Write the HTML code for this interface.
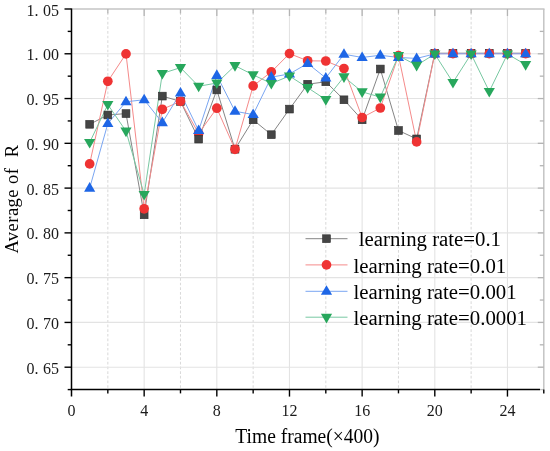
<!DOCTYPE html>
<html><head><meta charset="utf-8"><title>Average of R</title>
<style>
html,body{margin:0;padding:0;background:#fff;}
body{width:550px;height:451px;overflow:hidden;}
svg{display:block;}
.tk{font-family:"Liberation Serif",serif;font-size:16px;fill:#1a1a1a;}
.ti{font-family:"Liberation Serif",serif;font-size:20px;fill:#000;}
.lg{font-family:"Liberation Serif",serif;font-size:20.8px;fill:#000;}
</style></head>
<body><svg width="550" height="451" viewBox="0 0 550 451">
<rect width="550" height="451" fill="#fff"/>
<line x1="107.83" y1="9" x2="107.83" y2="389.59" stroke="#dadada" stroke-width="1.05" stroke-dasharray="2.7 1.96" stroke-dashoffset="1.3"/>
<line x1="144.16" y1="9" x2="144.16" y2="389.59" stroke="#e3e3e3" stroke-width="1.1"/>
<line x1="180.49" y1="9" x2="180.49" y2="389.59" stroke="#dadada" stroke-width="1.05" stroke-dasharray="2.7 1.96" stroke-dashoffset="1.3"/>
<line x1="216.82" y1="9" x2="216.82" y2="389.59" stroke="#e3e3e3" stroke-width="1.1"/>
<line x1="253.15" y1="9" x2="253.15" y2="389.59" stroke="#dadada" stroke-width="1.05" stroke-dasharray="2.7 1.96" stroke-dashoffset="1.3"/>
<line x1="289.48" y1="9" x2="289.48" y2="389.59" stroke="#e3e3e3" stroke-width="1.1"/>
<line x1="325.81" y1="9" x2="325.81" y2="389.59" stroke="#dadada" stroke-width="1.05" stroke-dasharray="2.7 1.96" stroke-dashoffset="1.3"/>
<line x1="362.14" y1="9" x2="362.14" y2="389.59" stroke="#e3e3e3" stroke-width="1.1"/>
<line x1="398.47" y1="9" x2="398.47" y2="389.59" stroke="#dadada" stroke-width="1.05" stroke-dasharray="2.7 1.96" stroke-dashoffset="1.3"/>
<line x1="434.8" y1="9" x2="434.8" y2="389.59" stroke="#e3e3e3" stroke-width="1.1"/>
<line x1="471.13" y1="9" x2="471.13" y2="389.59" stroke="#dadada" stroke-width="1.05" stroke-dasharray="2.7 1.96" stroke-dashoffset="1.3"/>
<line x1="507.46" y1="9" x2="507.46" y2="389.59" stroke="#e3e3e3" stroke-width="1.1"/>
<line x1="71.5" y1="367.2" x2="543.79" y2="367.2" stroke="#e3e3e3" stroke-width="1.1"/>
<line x1="71.5" y1="322.42" x2="543.79" y2="322.42" stroke="#e3e3e3" stroke-width="1.1"/>
<line x1="71.5" y1="277.65" x2="543.79" y2="277.65" stroke="#e3e3e3" stroke-width="1.1"/>
<line x1="71.5" y1="232.88" x2="543.79" y2="232.88" stroke="#e3e3e3" stroke-width="1.1"/>
<line x1="71.5" y1="188.1" x2="543.79" y2="188.1" stroke="#e3e3e3" stroke-width="1.1"/>
<line x1="71.5" y1="143.33" x2="543.79" y2="143.33" stroke="#e3e3e3" stroke-width="1.1"/>
<line x1="71.5" y1="98.55" x2="543.79" y2="98.55" stroke="#e3e3e3" stroke-width="1.1"/>
<line x1="71.5" y1="53.78" x2="543.79" y2="53.78" stroke="#e3e3e3" stroke-width="1.1"/>
<line x1="71.5" y1="9" x2="544.49" y2="9" stroke="#c4c4c4" stroke-width="1.5"/>
<line x1="543.79" y1="9" x2="543.79" y2="389.59" stroke="#c4c4c4" stroke-width="1.5"/>
<line x1="107.83" y1="9" x2="107.83" y2="13.5" stroke="#b4b4b4" stroke-width="1.3"/>
<line x1="144.16" y1="9" x2="144.16" y2="16" stroke="#b4b4b4" stroke-width="1.3"/>
<line x1="180.49" y1="9" x2="180.49" y2="13.5" stroke="#b4b4b4" stroke-width="1.3"/>
<line x1="216.82" y1="9" x2="216.82" y2="16" stroke="#b4b4b4" stroke-width="1.3"/>
<line x1="253.15" y1="9" x2="253.15" y2="13.5" stroke="#b4b4b4" stroke-width="1.3"/>
<line x1="289.48" y1="9" x2="289.48" y2="16" stroke="#b4b4b4" stroke-width="1.3"/>
<line x1="325.81" y1="9" x2="325.81" y2="13.5" stroke="#b4b4b4" stroke-width="1.3"/>
<line x1="362.14" y1="9" x2="362.14" y2="16" stroke="#b4b4b4" stroke-width="1.3"/>
<line x1="398.47" y1="9" x2="398.47" y2="13.5" stroke="#b4b4b4" stroke-width="1.3"/>
<line x1="434.8" y1="9" x2="434.8" y2="16" stroke="#b4b4b4" stroke-width="1.3"/>
<line x1="471.13" y1="9" x2="471.13" y2="13.5" stroke="#b4b4b4" stroke-width="1.3"/>
<line x1="507.46" y1="9" x2="507.46" y2="16" stroke="#b4b4b4" stroke-width="1.3"/>
<line x1="537.79" y1="367.2" x2="543.79" y2="367.2" stroke="#b4b4b4" stroke-width="1.3"/>
<line x1="539.79" y1="344.81" x2="543.79" y2="344.81" stroke="#b4b4b4" stroke-width="1.3"/>
<line x1="537.79" y1="322.43" x2="543.79" y2="322.43" stroke="#b4b4b4" stroke-width="1.3"/>
<line x1="539.79" y1="300.04" x2="543.79" y2="300.04" stroke="#b4b4b4" stroke-width="1.3"/>
<line x1="537.79" y1="277.65" x2="543.79" y2="277.65" stroke="#b4b4b4" stroke-width="1.3"/>
<line x1="539.79" y1="255.26" x2="543.79" y2="255.26" stroke="#b4b4b4" stroke-width="1.3"/>
<line x1="537.79" y1="232.88" x2="543.79" y2="232.88" stroke="#b4b4b4" stroke-width="1.3"/>
<line x1="539.79" y1="210.49" x2="543.79" y2="210.49" stroke="#b4b4b4" stroke-width="1.3"/>
<line x1="537.79" y1="188.1" x2="543.79" y2="188.1" stroke="#b4b4b4" stroke-width="1.3"/>
<line x1="539.79" y1="165.71" x2="543.79" y2="165.71" stroke="#b4b4b4" stroke-width="1.3"/>
<line x1="537.79" y1="143.33" x2="543.79" y2="143.33" stroke="#b4b4b4" stroke-width="1.3"/>
<line x1="539.79" y1="120.94" x2="543.79" y2="120.94" stroke="#b4b4b4" stroke-width="1.3"/>
<line x1="537.79" y1="98.55" x2="543.79" y2="98.55" stroke="#b4b4b4" stroke-width="1.3"/>
<line x1="539.79" y1="76.16" x2="543.79" y2="76.16" stroke="#b4b4b4" stroke-width="1.3"/>
<line x1="537.79" y1="53.78" x2="543.79" y2="53.78" stroke="#b4b4b4" stroke-width="1.3"/>
<line x1="539.79" y1="31.39" x2="543.79" y2="31.39" stroke="#b4b4b4" stroke-width="1.3"/>
<polyline points="89.66,124.3 107.83,115 126,113.6 144.16,214.8 162.32,96.1 180.49,101.4 198.66,139.1 216.82,89.9 234.98,149.2 253.15,119.8 271.31,134.7 289.48,109.1 307.64,84.2 325.81,81.8 343.97,99.8 362.14,119.8 380.31,69 398.47,130.5 416.63,138.9 434.8,53.2 452.96,53.2 471.13,53.2 489.29,53.2 507.46,53.2 525.62,53.2" fill="none" stroke="#858585" stroke-width="1.0" stroke-linejoin="round"/>
<polyline points="89.66,163.9 107.83,81.3 126,53.9 144.16,208.8 162.32,109.3 180.49,101.3 198.66,133.5 216.82,108.2 234.98,149.3 253.15,85.9 271.31,71.9 289.48,53.6 307.64,60.8 325.81,61 343.97,68.5 362.14,117.5 380.31,108 398.47,55.6 416.63,141.9 434.8,53.6 452.96,53.6 471.13,53.6 489.29,53.6 507.46,53.6 525.62,53.6" fill="none" stroke="#f58a8a" stroke-width="1.0" stroke-linejoin="round"/>
<polyline points="89.66,188.15 107.83,123.55 126,101.75 144.16,99.75 162.32,122.65 180.49,93.05 198.66,130.55 216.82,75.35 234.98,111.25 253.15,114.55 271.31,77.15 289.48,73.95 307.64,63.45 325.81,77.95 343.97,54.25 362.14,57.45 380.31,55.25 398.47,57.45 416.63,58.45 434.8,53.85 452.96,53.75 471.13,53.75 489.29,53.75 507.46,53.75 525.62,53.75" fill="none" stroke="#7aa6f2" stroke-width="1.0" stroke-linejoin="round"/>
<polyline points="89.66,142.45 107.83,104.55 126,131.15 144.16,194.45 162.32,73.45 180.49,67.65 198.66,86.25 216.82,83.05 234.98,65.65 253.15,74.85 271.31,83.45 289.48,76.05 307.64,87.65 325.81,99.65 343.97,76.85 362.14,91.85 380.31,97.15 398.47,55.65 416.63,65.35 434.8,54.05 452.96,82.45 471.13,54.05 489.29,91.45 507.46,54.05 525.62,64.65" fill="none" stroke="#78c8a2" stroke-width="1.0" stroke-linejoin="round"/>
<rect x="85.76" y="120.4" width="7.8" height="7.8" fill="#454545" stroke="#2e2e2e" stroke-width="0.6"/>
<rect x="103.93" y="111.1" width="7.8" height="7.8" fill="#454545" stroke="#2e2e2e" stroke-width="0.6"/>
<rect x="122.09" y="109.7" width="7.8" height="7.8" fill="#454545" stroke="#2e2e2e" stroke-width="0.6"/>
<rect x="140.26" y="210.9" width="7.8" height="7.8" fill="#454545" stroke="#2e2e2e" stroke-width="0.6"/>
<rect x="158.42" y="92.2" width="7.8" height="7.8" fill="#454545" stroke="#2e2e2e" stroke-width="0.6"/>
<rect x="176.59" y="97.5" width="7.8" height="7.8" fill="#454545" stroke="#2e2e2e" stroke-width="0.6"/>
<rect x="212.92" y="86" width="7.8" height="7.8" fill="#454545" stroke="#2e2e2e" stroke-width="0.6"/>
<rect x="231.08" y="145.3" width="7.8" height="7.8" fill="#454545" stroke="#2e2e2e" stroke-width="0.6"/>
<rect x="249.25" y="115.9" width="7.8" height="7.8" fill="#454545" stroke="#2e2e2e" stroke-width="0.6"/>
<rect x="267.42" y="130.8" width="7.8" height="7.8" fill="#454545" stroke="#2e2e2e" stroke-width="0.6"/>
<rect x="285.58" y="105.2" width="7.8" height="7.8" fill="#454545" stroke="#2e2e2e" stroke-width="0.6"/>
<rect x="303.75" y="80.3" width="7.8" height="7.8" fill="#454545" stroke="#2e2e2e" stroke-width="0.6"/>
<rect x="321.91" y="77.9" width="7.8" height="7.8" fill="#454545" stroke="#2e2e2e" stroke-width="0.6"/>
<rect x="340.07" y="95.9" width="7.8" height="7.8" fill="#454545" stroke="#2e2e2e" stroke-width="0.6"/>
<rect x="358.24" y="115.9" width="7.8" height="7.8" fill="#454545" stroke="#2e2e2e" stroke-width="0.6"/>
<rect x="376.41" y="65.1" width="7.8" height="7.8" fill="#454545" stroke="#2e2e2e" stroke-width="0.6"/>
<rect x="394.57" y="126.6" width="7.8" height="7.8" fill="#454545" stroke="#2e2e2e" stroke-width="0.6"/>
<rect x="412.74" y="135" width="7.8" height="7.8" fill="#454545" stroke="#2e2e2e" stroke-width="0.6"/>
<rect x="430.9" y="49.3" width="7.8" height="7.8" fill="#454545" stroke="#2e2e2e" stroke-width="0.6"/>
<rect x="449.06" y="49.3" width="7.8" height="7.8" fill="#454545" stroke="#2e2e2e" stroke-width="0.6"/>
<rect x="467.23" y="49.3" width="7.8" height="7.8" fill="#454545" stroke="#2e2e2e" stroke-width="0.6"/>
<rect x="485.39" y="49.3" width="7.8" height="7.8" fill="#454545" stroke="#2e2e2e" stroke-width="0.6"/>
<rect x="503.56" y="49.3" width="7.8" height="7.8" fill="#454545" stroke="#2e2e2e" stroke-width="0.6"/>
<rect x="521.73" y="49.3" width="7.8" height="7.8" fill="#454545" stroke="#2e2e2e" stroke-width="0.6"/>
<circle cx="89.66" cy="163.9" r="4.85" fill="#ef3333"/>
<circle cx="107.83" cy="81.3" r="4.85" fill="#ef3333"/>
<circle cx="126" cy="53.9" r="4.85" fill="#ef3333"/>
<circle cx="144.16" cy="208.8" r="4.85" fill="#ef3333"/>
<circle cx="162.32" cy="109.3" r="4.85" fill="#ef3333"/>
<circle cx="180.49" cy="101.3" r="4.85" fill="#ef3333"/>
<circle cx="198.66" cy="133.5" r="4.85" fill="#ef3333"/>
<circle cx="216.82" cy="108.2" r="4.85" fill="#ef3333"/>
<circle cx="234.98" cy="149.3" r="4.85" fill="#ef3333"/>
<circle cx="253.15" cy="85.9" r="4.85" fill="#ef3333"/>
<circle cx="271.31" cy="71.9" r="4.85" fill="#ef3333"/>
<circle cx="289.48" cy="53.6" r="4.85" fill="#ef3333"/>
<circle cx="307.64" cy="60.8" r="4.85" fill="#ef3333"/>
<circle cx="325.81" cy="61" r="4.85" fill="#ef3333"/>
<circle cx="343.97" cy="68.5" r="4.85" fill="#ef3333"/>
<circle cx="362.14" cy="117.5" r="4.85" fill="#ef3333"/>
<circle cx="380.31" cy="108" r="4.85" fill="#ef3333"/>
<circle cx="398.47" cy="55.6" r="4.85" fill="#ef3333"/>
<circle cx="416.63" cy="141.9" r="4.85" fill="#ef3333"/>
<circle cx="434.8" cy="53.6" r="4.85" fill="#ef3333"/>
<circle cx="452.96" cy="53.6" r="4.85" fill="#ef3333"/>
<circle cx="471.13" cy="53.6" r="4.85" fill="#ef3333"/>
<circle cx="489.29" cy="53.6" r="4.85" fill="#ef3333"/>
<circle cx="507.46" cy="53.6" r="4.85" fill="#ef3333"/>
<circle cx="525.62" cy="53.6" r="4.85" fill="#ef3333"/>
<rect x="194.75" y="135.2" width="7.8" height="7.8" fill="#454545" stroke="#2e2e2e" stroke-width="0.6"/>
<polygon points="89.66,182.1 95.26,191.7 84.06,191.7" fill="#1e66e6"/>
<polygon points="107.83,117.5 113.43,127.1 102.23,127.1" fill="#1e66e6"/>
<polygon points="126,95.7 131.59,105.3 120.4,105.3" fill="#1e66e6"/>
<polygon points="144.16,93.7 149.76,103.3 138.56,103.3" fill="#1e66e6"/>
<polygon points="162.32,116.6 167.92,126.2 156.72,126.2" fill="#1e66e6"/>
<polygon points="180.49,87 186.09,96.6 174.89,96.6" fill="#1e66e6"/>
<polygon points="198.66,124.5 204.25,134.1 193.06,134.1" fill="#1e66e6"/>
<polygon points="216.82,69.3 222.42,78.9 211.22,78.9" fill="#1e66e6"/>
<polygon points="234.98,105.2 240.58,114.8 229.38,114.8" fill="#1e66e6"/>
<polygon points="253.15,108.5 258.75,118.1 247.55,118.1" fill="#1e66e6"/>
<polygon points="271.31,71.1 276.92,80.7 265.71,80.7" fill="#1e66e6"/>
<polygon points="289.48,67.9 295.08,77.5 283.88,77.5" fill="#1e66e6"/>
<polygon points="307.64,57.4 313.25,67 302.04,67" fill="#1e66e6"/>
<polygon points="325.81,71.9 331.41,81.5 320.21,81.5" fill="#1e66e6"/>
<polygon points="343.97,48.2 349.57,57.8 338.37,57.8" fill="#1e66e6"/>
<polygon points="362.14,51.4 367.74,61 356.54,61" fill="#1e66e6"/>
<polygon points="380.31,49.2 385.91,58.8 374.7,58.8" fill="#1e66e6"/>
<polygon points="398.47,51.4 404.07,61 392.87,61" fill="#1e66e6"/>
<polygon points="416.63,52.4 422.24,62 411.03,62" fill="#1e66e6"/>
<polygon points="434.8,47.8 440.4,57.4 429.2,57.4" fill="#1e66e6"/>
<polygon points="452.96,47.7 458.56,57.3 447.36,57.3" fill="#1e66e6"/>
<polygon points="471.13,47.7 476.73,57.3 465.53,57.3" fill="#1e66e6"/>
<polygon points="489.29,47.7 494.89,57.3 483.69,57.3" fill="#1e66e6"/>
<polygon points="507.46,47.7 513.06,57.3 501.86,57.3" fill="#1e66e6"/>
<polygon points="525.62,47.7 531.23,57.3 520.02,57.3" fill="#1e66e6"/>
<polygon points="84.06,138.9 95.26,138.9 89.66,148.5" fill="#27a75c"/>
<polygon points="102.23,101 113.43,101 107.83,110.6" fill="#27a75c"/>
<polygon points="120.4,127.6 131.59,127.6 126,137.2" fill="#27a75c"/>
<polygon points="138.56,190.9 149.76,190.9 144.16,200.5" fill="#27a75c"/>
<polygon points="156.72,69.9 167.92,69.9 162.32,79.5" fill="#27a75c"/>
<polygon points="174.89,64.1 186.09,64.1 180.49,73.7" fill="#27a75c"/>
<polygon points="193.06,82.7 204.25,82.7 198.66,92.3" fill="#27a75c"/>
<polygon points="211.22,79.5 222.42,79.5 216.82,89.1" fill="#27a75c"/>
<polygon points="229.38,62.1 240.58,62.1 234.98,71.7" fill="#27a75c"/>
<polygon points="247.55,71.3 258.75,71.3 253.15,80.9" fill="#27a75c"/>
<polygon points="265.71,79.9 276.92,79.9 271.31,89.5" fill="#27a75c"/>
<polygon points="283.88,72.5 295.08,72.5 289.48,82.1" fill="#27a75c"/>
<polygon points="302.04,84.1 313.25,84.1 307.64,93.7" fill="#27a75c"/>
<polygon points="320.21,96.1 331.41,96.1 325.81,105.7" fill="#27a75c"/>
<polygon points="338.37,73.3 349.57,73.3 343.97,82.9" fill="#27a75c"/>
<polygon points="356.54,88.3 367.74,88.3 362.14,97.9" fill="#27a75c"/>
<polygon points="374.7,93.6 385.91,93.6 380.31,103.2" fill="#27a75c"/>
<polygon points="392.87,52.1 404.07,52.1 398.47,61.7" fill="#27a75c"/>
<polygon points="411.03,61.8 422.24,61.8 416.63,71.4" fill="#27a75c"/>
<polygon points="429.2,50.5 440.4,50.5 434.8,60.1" fill="#27a75c"/>
<polygon points="447.36,78.9 458.56,78.9 452.96,88.5" fill="#27a75c"/>
<polygon points="465.53,50.5 476.73,50.5 471.13,60.1" fill="#27a75c"/>
<polygon points="483.69,87.9 494.89,87.9 489.29,97.5" fill="#27a75c"/>
<polygon points="501.86,50.5 513.06,50.5 507.46,60.1" fill="#27a75c"/>
<polygon points="520.02,61.1 531.23,61.1 525.62,70.7" fill="#27a75c"/>
<line x1="71.5" y1="8.4" x2="71.5" y2="396.59" stroke="#000" stroke-width="1.5"/>
<line x1="540" y1="389.59" x2="543.79" y2="389.59" stroke="#c4c4c4" stroke-width="1.3"/>
<line x1="70.75" y1="389.59" x2="540" y2="389.59" stroke="#000" stroke-width="1.5"/>
<line x1="107.83" y1="389.59" x2="107.83" y2="393.39" stroke="#000" stroke-width="1.4"/>
<line x1="144.16" y1="389.59" x2="144.16" y2="396.59" stroke="#000" stroke-width="1.4"/>
<line x1="180.49" y1="389.59" x2="180.49" y2="393.39" stroke="#000" stroke-width="1.4"/>
<line x1="216.82" y1="389.59" x2="216.82" y2="396.59" stroke="#000" stroke-width="1.4"/>
<line x1="253.15" y1="389.59" x2="253.15" y2="393.39" stroke="#000" stroke-width="1.4"/>
<line x1="289.48" y1="389.59" x2="289.48" y2="396.59" stroke="#000" stroke-width="1.4"/>
<line x1="325.81" y1="389.59" x2="325.81" y2="393.39" stroke="#000" stroke-width="1.4"/>
<line x1="362.14" y1="389.59" x2="362.14" y2="396.59" stroke="#000" stroke-width="1.4"/>
<line x1="398.47" y1="389.59" x2="398.47" y2="393.39" stroke="#000" stroke-width="1.4"/>
<line x1="434.8" y1="389.59" x2="434.8" y2="396.59" stroke="#000" stroke-width="1.4"/>
<line x1="471.13" y1="389.59" x2="471.13" y2="393.39" stroke="#000" stroke-width="1.4"/>
<line x1="507.46" y1="389.59" x2="507.46" y2="396.59" stroke="#000" stroke-width="1.4"/>
<line x1="543.79" y1="389.59" x2="543.79" y2="393.39" stroke="#000" stroke-width="1.4"/>
<line x1="67.7" y1="389.59" x2="71.5" y2="389.59" stroke="#000" stroke-width="1.4"/>
<line x1="64.5" y1="367.2" x2="71.5" y2="367.2" stroke="#000" stroke-width="1.4"/>
<line x1="67.7" y1="344.81" x2="71.5" y2="344.81" stroke="#000" stroke-width="1.4"/>
<line x1="64.5" y1="322.43" x2="71.5" y2="322.43" stroke="#000" stroke-width="1.4"/>
<line x1="67.7" y1="300.04" x2="71.5" y2="300.04" stroke="#000" stroke-width="1.4"/>
<line x1="64.5" y1="277.65" x2="71.5" y2="277.65" stroke="#000" stroke-width="1.4"/>
<line x1="67.7" y1="255.26" x2="71.5" y2="255.26" stroke="#000" stroke-width="1.4"/>
<line x1="64.5" y1="232.88" x2="71.5" y2="232.88" stroke="#000" stroke-width="1.4"/>
<line x1="67.7" y1="210.49" x2="71.5" y2="210.49" stroke="#000" stroke-width="1.4"/>
<line x1="64.5" y1="188.1" x2="71.5" y2="188.1" stroke="#000" stroke-width="1.4"/>
<line x1="67.7" y1="165.71" x2="71.5" y2="165.71" stroke="#000" stroke-width="1.4"/>
<line x1="64.5" y1="143.33" x2="71.5" y2="143.33" stroke="#000" stroke-width="1.4"/>
<line x1="67.7" y1="120.94" x2="71.5" y2="120.94" stroke="#000" stroke-width="1.4"/>
<line x1="64.5" y1="98.55" x2="71.5" y2="98.55" stroke="#000" stroke-width="1.4"/>
<line x1="67.7" y1="76.16" x2="71.5" y2="76.16" stroke="#000" stroke-width="1.4"/>
<line x1="64.5" y1="53.78" x2="71.5" y2="53.78" stroke="#000" stroke-width="1.4"/>
<line x1="67.7" y1="31.39" x2="71.5" y2="31.39" stroke="#000" stroke-width="1.4"/>
<line x1="64.5" y1="9" x2="71.5" y2="9" stroke="#000" stroke-width="1.4"/>
<text x="26.5 34.6 43 51" y="373.8" class="tk">0.65</text>
<text x="26.5 34.6 43 51" y="329.02" class="tk">0.70</text>
<text x="26.5 34.6 43 51" y="284.25" class="tk">0.75</text>
<text x="26.5 34.6 43 51" y="239.47" class="tk">0.80</text>
<text x="26.5 34.6 43 51" y="194.7" class="tk">0.85</text>
<text x="26.5 34.6 43 51" y="149.93" class="tk">0.90</text>
<text x="26.5 34.6 43 51" y="105.15" class="tk">0.95</text>
<text x="26.5 34.6 43 51" y="60.38" class="tk">1.00</text>
<text x="26.5 34.6 43 51" y="15.6" class="tk">1.05</text>
<text x="71.5" y="415.8" class="tk" text-anchor="middle">0</text>
<text x="144.16" y="415.8" class="tk" text-anchor="middle">4</text>
<text x="216.82" y="415.8" class="tk" text-anchor="middle">8</text>
<text x="289.48" y="415.8" class="tk" text-anchor="middle">12</text>
<text x="362.14" y="415.8" class="tk" text-anchor="middle">16</text>
<text x="434.8" y="415.8" class="tk" text-anchor="middle">20</text>
<text x="507.46" y="415.8" class="tk" text-anchor="middle">24</text>
<text x="235.3" y="442.9" class="ti" textLength="144.3" lengthAdjust="spacingAndGlyphs">Time frame(×400)</text>
<text transform="translate(17.9 253.6) rotate(-90)" class="ti" style="font-size:18.5px" textLength="108.6" lengthAdjust="spacing" xml:space="preserve">Average of  R</text>
<line x1="305.5" y1="238.7" x2="347.5" y2="238.7" stroke="#858585" stroke-width="1"/>
<rect x="322.6" y="234.8" width="7.8" height="7.8" fill="#454545" stroke="#2e2e2e" stroke-width="0.6"/>
<text x="353.6" y="246.3" class="lg" xml:space="preserve"> learning rate=0.1</text>
<line x1="305.5" y1="264.9" x2="347.5" y2="264.9" stroke="#f58a8a" stroke-width="1"/>
<circle cx="326.5" cy="264.9" r="4.85" fill="#ef3333"/>
<text x="353.6" y="272.5" class="lg" xml:space="preserve">learning rate=0.01</text>
<line x1="305.5" y1="291.3" x2="347.5" y2="291.3" stroke="#7aa6f2" stroke-width="1"/>
<polygon points="326.5,285.2 332.1,294.8 320.9,294.8" fill="#1e66e6"/>
<text x="353.6" y="298.9" class="lg" xml:space="preserve">learning rate=0.001</text>
<line x1="305.5" y1="317.2" x2="347.5" y2="317.2" stroke="#78c8a2" stroke-width="1"/>
<polygon points="320.9,313.8 332.1,313.8 326.5,323.4" fill="#27a75c"/>
<text x="353.6" y="324.8" class="lg" xml:space="preserve">learning rate=0.0001</text>
</svg></body></html>
